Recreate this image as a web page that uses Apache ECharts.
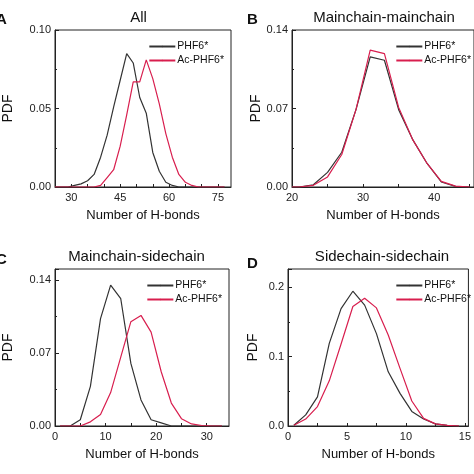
<!DOCTYPE html>
<html><head><meta charset="utf-8">
<script src="https://cdn.jsdelivr.net/npm/echarts@6/dist/echarts.min.js"></script>
<style>html,body{margin:0;background:#fff}#main{width:474px;height:474px}</style>
</head><body><div id="main"></div>
<script>
// panel A: All
const aX = [25, 27, 29, 31, 33, 35, 37, 39, 41, 43, 45, 47, 49, 51, 53, 55, 57, 59, 61, 63, 65, 67, 69, 71, 73, 75, 77];
const aBlack = [0, 0, 0, 0.001, 0.002, 0.004, 0.008, 0.019, 0.033, 0.051, 0.068, 0.085, 0.079, 0.057, 0.047, 0.022, 0.010, 0.003, 0.001, 0, 0, 0, 0, 0, 0, 0, 0];
const aRed = [0, 0, 0, 0, 0, 0, 0, 0.001, 0.006, 0.011, 0.026, 0.046, 0.067, 0.067, 0.081, 0.069, 0.053, 0.034, 0.019, 0.008, 0.003, 0.001, 0, 0, 0, 0, 0];
// panel B: Mainchain-mainchain
const bX = [20, 21, 23, 25, 27, 29, 31, 33, 35, 37, 39, 41, 43, 45];
const bBlack = [0, 0, 0.002, 0.013, 0.031, 0.069, 0.116, 0.113, 0.069, 0.042, 0.021, 0.0045, 0.0005, 0];
const bRed = [0, 0, 0.0015, 0.009, 0.029, 0.069, 0.122, 0.119, 0.071, 0.042, 0.021, 0.005, 0.0008, 0];
// panel C: Mainchain-sidechain
const cX = [1, 3, 5, 7, 9, 11, 13, 15, 17, 19, 21, 23, 25, 27, 29, 31, 33];
const cBlack = [0, 0, 0.006, 0.038, 0.103, 0.135, 0.122, 0.060, 0.025, 0.006, 0.003, 0, 0, 0, 0, 0, 0];
const cRed = [0, 0, 0, 0.004, 0.011, 0.032, 0.066, 0.100, 0.106, 0.090, 0.052, 0.022, 0.007, 0.002, 0.0005, 0, 0];
// panel D: Sidechain-sidechain
const dX = [0.5, 1.5, 2.5, 3.5, 4.5, 5.5, 6.5, 7.5, 8.5, 9.5, 10.5, 11.5, 12.5, 13.5, 14.5];
const dBlack = [0.001, 0.016, 0.042, 0.119, 0.169, 0.194, 0.174, 0.133, 0.078, 0.047, 0.021, 0.010, 0.003, 0.001, 0];
const dRed = [0.001, 0.010, 0.028, 0.065, 0.118, 0.172, 0.184, 0.170, 0.131, 0.083, 0.036, 0.011, 0.003, 0.001, 0];

const titles = ["All", "Mainchain-mainchain", "Mainchain-sidechain", "Sidechain-sidechain"];
const letters = ["A", "B", "C", "D"];
const names = ["PHF6*", "Ac-PHF6*"];
const BLACK = "#333333";
const RED = "#d81e4e";

const panels = [
  { x: aX, k: aBlack, r: aRed, xmin: 25, xmax: 79, tick: 5, lab: 15, ymax: 0.1, yint: 0.05, yfmt: (v) => v.toFixed(2), ygap: 40, grid: { left: 36, top: 30, width: 195, height: 157 }, label: [-4, 12] },
  { x: bX, k: bBlack, r: bRed, xmin: 20, xmax: 45.6, tick: 5, lab: 10, ymax: 0.14, yint: 0.07, yfmt: (v) => v.toFixed(2), ygap: 28, grid: { left: 292, top: 30, width: 186, height: 157 }, label: [247, 12] },
  { x: cX, k: cBlack, r: cRed, xmin: 0, xmax: 34.4, tick: 5, lab: 10, ymax: 0.1505, yint: 0.07, yfmt: (v) => v.toFixed(2), ygap: 40, grid: { left: 34, top: 269, width: 195, height: 157 }, label: [-4, 252] },
  { x: dX, k: dBlack, r: dRed, xmin: 0, xmax: 15.3, tick: 2.5, lab: 5, ymax: 0.226, yint: 0.1, yfmt: (v) => v.toFixed(1), ygap: 28, grid: { left: 288, top: 269, width: 190, height: 157 }, label: [247, 256] },
];

const font = "Arial, 'Liberation Sans', sans-serif";
const option = {
  animation: false,
  backgroundColor: "#fff",
  title: [],
  grid: [],
  xAxis: [],
  yAxis: [],
  legend: [],
  series: [],
  graphic: [],
};

panels.forEach((p, i) => {
  const g = p.grid;
  option.grid.push(Object.assign({ show: true, borderColor: "#222", borderWidth: 1 }, g));
  option.title.push({
    text: titles[i],
    left: g.left + g.width / 2 - (i % 2 ? 6 : 0),
    top: g.top - 25,
    textAlign: "center",
    textStyle: { fontFamily: font, fontSize: 15, fontWeight: "normal", color: "#111" },
  });
  option.graphic.push({
    type: "text",
    left: p.label[0],
    top: p.label[1],
    style: { text: letters[i], font: "bold 15px " + font, fill: "#111" },
  });
  option.xAxis.push({
    type: "value",
    gridIndex: i,
    min: p.xmin,
    max: p.xmax,
    interval: p.tick,
    name: "Number of H-bonds",
    nameLocation: "middle",
    nameGap: 22,
    nameTextStyle: { fontFamily: font, fontSize: 13, color: "#111" },
    axisLine: { lineStyle: { color: "#222" } },
    axisTick: { inside: true, length: 3, lineStyle: { color: "#222" } },
    splitLine: { show: false },
    axisLabel: {
      fontFamily: font, fontSize: 11, color: "#222", margin: 5,
      showMaxLabel: false,
      formatter: (v) => (Math.abs(v % p.lab) < 1e-6 ? String(v) : ""),
    },
  });
  option.yAxis.push({
    type: "value",
    gridIndex: i,
    min: 0,
    max: p.ymax,
    interval: p.yint,
    name: "PDF",
    nameLocation: "middle",
    nameGap: p.ygap,
    nameTextStyle: { fontFamily: font, fontSize: 14, color: "#111" },
    axisLine: { show: true, lineStyle: { color: "#222" } },
    axisTick: { inside: true, length: 4, lineStyle: { color: "#222" } },
    minorTick: { show: true, splitNumber: 2, length: 2, lineStyle: { color: "#222" } },
    splitLine: { show: false },
    axisLabel: {
      fontFamily: font, fontSize: 11, color: "#222", margin: 4,
      formatter: (v) => (Math.abs(v / p.yint - Math.round(v / p.yint)) < 1e-6 ? p.yfmt(v) : ""),
    },
  });
  option.legend.push({
    data: names,
    orient: "vertical",
    right: 474 - (g.left + g.width) + 2,
    top: g.top + 6,
    itemWidth: 26,
    itemHeight: 2,
    itemGap: 3,
    textStyle: { fontFamily: font, fontSize: 10.5, color: "#111", padding: [0, 0, 0, -3] },
  });
  [[p.k, BLACK, names[0]], [p.r, RED, names[1]]].forEach(([ys, color, name]) => {
    option.series.push({
      type: "line",
      name,
      xAxisIndex: i,
      yAxisIndex: i,
      symbol: "none",
      color,
      lineStyle: { color, width: 1.2 },
      data: p.x.map((x, j) => [x, ys[j]]),
    });
  });
});

const myChart = echarts.init(document.getElementById("main"));
myChart.setOption(option);
</script>
</body></html>
